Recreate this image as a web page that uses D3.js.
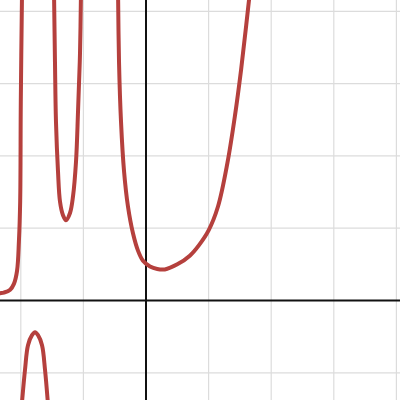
<!DOCTYPE html>
<html><head><meta charset="utf-8">
<script src="https://cdn.jsdelivr.net/npm/d3@7.9.0/dist/d3.min.js"></script>
<style>body{margin:0;background:#fff}svg{display:block}</style>
</head><body><svg width="400" height="400"></svg>
<script>
// branches of the curve (graph units)
const branch1X = [-2.40, -2.33, -2.27, -2.17, -2.11, -2.06, -2.03, -2.01, -2.00, -1.98];
const branch1Y = [0.09, 0.10, 0.11, 0.15, 0.23, 0.41, 0.82, 1.37, 2.75, 4.3];
const branch2X = [-1.47, -1.454, -1.438, -1.406, -1.374, -1.326, -1.278, -1.214, -1.166, -1.118, -1.086, -1.054, -1.038];
const branch2Y = [4.3, 3.30, 2.47, 1.79, 1.37, 1.18, 1.11, 1.21, 1.44, 1.92, 2.61, 3.43, 4.3];
const branch3X = [-0.447, -0.431, -0.399, -0.351, -0.288, -0.208, -0.128, -0.048, 0.064, 0.18, 0.3, 0.5, 0.7, 0.85, 1.0, 1.15, 1.3, 1.42, 1.52, 1.6, 1.67];
const branch3Y = [4.3, 3.30, 2.47, 1.79, 1.30, 0.93, 0.69, 0.55, 0.47, 0.435, 0.43, 0.50, 0.62, 0.77, 0.97, 1.30, 1.90, 2.55, 3.2, 3.8, 4.35];
const branch4X = [-1.99, -1.933, -1.885, -1.821, -1.773, -1.725, -1.661, -1.613, -1.56];
const branch4Y = [-1.5, -0.96, -0.62, -0.48, -0.44, -0.48, -0.62, -0.96, -1.5];
const gridX = [-2, -1, 1, 2, 3, 4];
const gridY = [-1, 1, 2, 3, 4];

const svg = d3.select('svg');
const x = d3.scaleLinear().domain([-146 / 62.6, 254 / 62.6]).range([0, 400]);
const y = d3.scaleLinear().domain([-99.5 / 72.3, 300.5 / 72.3]).range([400, 0]);

svg.selectAll('.gx').data(gridX).join('line')
  .attr('x1', d => x(d)).attr('x2', d => x(d)).attr('y1', 0).attr('y2', 400)
  .attr('stroke', '#dcdcdc').attr('stroke-width', 1.2);
svg.selectAll('.gy').data(gridY).join('line')
  .attr('y1', d => y(d)).attr('y2', d => y(d)).attr('x1', 0).attr('x2', 400)
  .attr('stroke', '#dcdcdc').attr('stroke-width', 1.2);

// axes
svg.append('line').attr('x1', x(0)).attr('x2', x(0)).attr('y1', 0).attr('y2', 400)
  .attr('stroke', '#111').attr('stroke-width', 2);
svg.append('line').attr('y1', y(0)).attr('y2', y(0)).attr('x1', 0).attr('x2', 400)
  .attr('stroke', '#111').attr('stroke-width', 2);

const line = d3.line().x(d => x(d[0])).y(d => y(d[1])).curve(d3.curveCatmullRom.alpha(0.5));
[[branch1X, branch1Y], [branch2X, branch2Y], [branch3X, branch3Y], [branch4X, branch4Y]].forEach(([xs, ys]) => {
  svg.append('path')
    .attr('d', line(d3.zip(xs, ys)))
    .attr('fill', 'none').attr('stroke', '#b5403d').attr('stroke-width', 4)
    .attr('stroke-linecap', 'round');
});
</script>
</body></html>
